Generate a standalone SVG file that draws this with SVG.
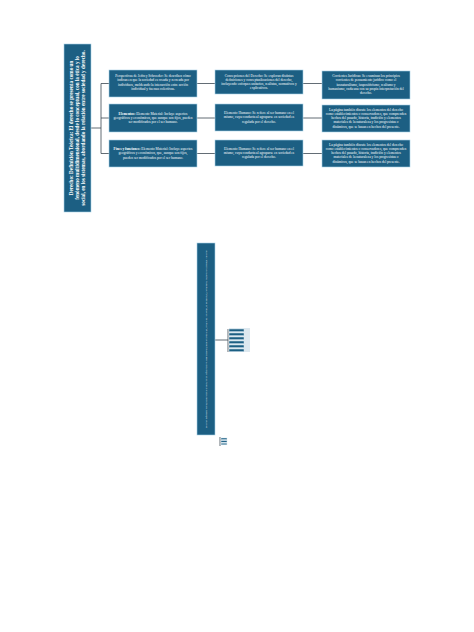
<svg xmlns="http://www.w3.org/2000/svg" width="474" height="632" viewBox="0 0 474 632">
<style>
.box{fill:#1c5f83;stroke:#a9d2e8;stroke-width:0.6}
.t{font-family:"Liberation Serif","Times New Roman",serif;font-size:3.5px;fill:#ffffff;text-anchor:middle}
.h{font-family:"Liberation Serif","Times New Roman",serif;font-size:5.2px;fill:#ffffff;text-anchor:middle;font-weight:bold}
.c{stroke:#3b4852;stroke-width:0.8;fill:none}
.mini{fill:#1c5f83;stroke:#d6e6ef;stroke-width:0.5}
</style>
<rect width="474" height="632" fill="#ffffff"/>
<g id="connectors">
<path class="c" d="M91 128H101M101 83.5V153.5M101 83.5H109M101 118H109M101 153.5H109"/>
<path class="c" d="M197 83.5H215M197 118H215M197 153.5H215"/>
<path class="c" d="M303 83.5H322M303 118H322M303 153.5H322"/>
<path class="c" d="M215 340H228M228 329V352"/>
<path class="c" d="M220 437V446"/>
</g>
<g id="root">
<rect class="box" x="64" y="44" width="27" height="168"/>
<g transform="translate(77.5 128) rotate(-90)">
<text class="h" x="0" y="-4.2">Derecho: Definición Teórica: El derecho se presenta como un</text>
<text class="h" x="0" y="1.8">fenómeno multidimensional, desde lo conceptual, con la ética y lo</text>
<text class="h" x="0" y="7.8">social, en los sistemas, abordando la relación entre sociedad y derecho.</text>
</g>
</g>
<g id="n1a">
<rect class="box" x="109" y="70" width="88" height="27"/>
<text class="t" x="153" y="77">Perspectivas de Jeffrey Schroeder: Se describen cómo</text>
<text class="t" x="153" y="81.3">indican en que la sociedad es creada y recreada por</text>
<text class="t" x="153" y="85.6">individuos, moldeando la interacción entre acción</text>
<text class="t" x="153" y="89.9">individual y fuerzas colectivas.</text>
</g>
<g id="n1b">
<rect class="box" x="109" y="104" width="88" height="28"/>
<text class="t" x="153" y="114.5"><tspan font-weight="bold">Elementos:</tspan> Elemento Material: Incluye aspectos</text>
<text class="t" x="153" y="118.8">geográficos y económicos, que aunque son fijos, pueden</text>
<text class="t" x="153" y="123.1">ser modificados por el ser humano.</text>
</g>
<g id="n1c">
<rect class="box" x="109" y="140" width="88" height="27"/>
<text class="t" x="153" y="150"><tspan font-weight="bold">Fines y funciones:</tspan> Elemento Material: Incluye aspectos</text>
<text class="t" x="153" y="154.3">geográficos y económicos, que, aunque son fijos,</text>
<text class="t" x="153" y="158.6">pueden ser modificados por el ser humano.</text>
</g>
<g id="n2a">
<rect class="box" x="215" y="70" width="88" height="24"/>
<text class="t" x="259" y="76.5">Concepciones del Derecho: Se exploran distintas</text>
<text class="t" x="259" y="80.8">definiciones y conceptualizaciones del derecho,</text>
<text class="t" x="259" y="85.1">incluyendo enfoques unitarios, realistas, normativos y</text>
<text class="t" x="259" y="89.4">explicativos.</text>
</g>
<g id="n2b">
<rect class="box" x="215" y="104" width="88" height="27"/>
<text class="t" x="259" y="114">Elemento Humano: Se refiere al ser humano en el</text>
<text class="t" x="259" y="118.3">mismo, cuya conducta al agruparse en sociedad es</text>
<text class="t" x="259" y="122.6">regulada por el derecho.</text>
</g>
<g id="n2c">
<rect class="box" x="215" y="140" width="88" height="26"/>
<text class="t" x="259" y="149.5">Elemento Humano: Se refiere al ser humano en el</text>
<text class="t" x="259" y="153.8">mismo, cuya conducta al agruparse en sociedad es</text>
<text class="t" x="259" y="158.1">regulada por el derecho.</text>
</g>
<g id="n3a">
<rect class="box" x="322" y="71" width="88" height="28"/>
<text class="t" x="366" y="77">Corrientes Jurídicas: Se examinan los principios</text>
<text class="t" x="366" y="81.3">corrientes de pensamiento jurídico como el</text>
<text class="t" x="366" y="85.6">iusnaturalismo, iuspositivismo, realismo y</text>
<text class="t" x="366" y="89.9">humanismo, cada una con su propia interpretación del</text>
<text class="t" x="366" y="94.2">derecho.</text>
</g>
<g id="n3b">
<rect class="box" x="322" y="105" width="88" height="27"/>
<text class="t" x="366" y="110.5">La página también discute los elementos del derecho</text>
<text class="t" x="366" y="114.8">como establecimientos o conservadores, que comprenden</text>
<text class="t" x="366" y="119.1">hechos del pasado, historia, tradición y elementos</text>
<text class="t" x="366" y="123.4">materiales de la naturaleza y los progresistas o</text>
<text class="t" x="366" y="127.7">dinámicos, que se basan en hechos del presente.</text>
</g>
<g id="n3c">
<rect class="box" x="322" y="140" width="88" height="27"/>
<text class="t" x="366" y="145.5">La página también discute los elementos del derecho</text>
<text class="t" x="366" y="149.8">como establecimientos o conservadores, que comprenden</text>
<text class="t" x="366" y="154.1">hechos del pasado, historia, tradición y elementos</text>
<text class="t" x="366" y="158.4">materiales de la naturaleza y los progresistas o</text>
<text class="t" x="366" y="162.7">dinámicos, que se basan en hechos del presente.</text>
</g>
<g id="mini-root">
<rect class="box" x="197" y="243" width="18" height="192"/>
<g transform="translate(206 339) rotate(-90)">
<text x="0" y="0.7" textLength="178" lengthAdjust="spacingAndGlyphs" style="font-family:'Liberation Serif',serif;font-size:2px;fill:#e6eff5;text-anchor:middle">Derecho: Definición Teórica: El derecho se presenta como un fenómeno multidimensional, desde lo conceptual, con la ética y lo social, en los sistemas, abordando la relación entre sociedad y derecho.</text>
</g>
</g>
<g id="mini-children">
<rect x="229" y="328" width="21" height="24" fill="#dde8ef"/>
<rect class="mini" x="229" y="329" width="15" height="2.6"/>
<rect class="mini" x="229" y="333" width="15" height="2.6"/>
<rect class="mini" x="229" y="337" width="15" height="2.6"/>
<rect class="mini" x="229" y="341" width="15" height="2.6"/>
<rect class="mini" x="229" y="345" width="15" height="2.6"/>
<rect class="mini" x="229" y="349" width="15" height="2.6"/>
</g>
<g id="mini-icon">
<rect class="mini" x="221" y="438" width="6" height="1.6"/>
<rect class="mini" x="221" y="440.6" width="6" height="1.6"/>
<rect class="mini" x="221" y="443.2" width="6" height="1.6"/>
</g>
</svg>
